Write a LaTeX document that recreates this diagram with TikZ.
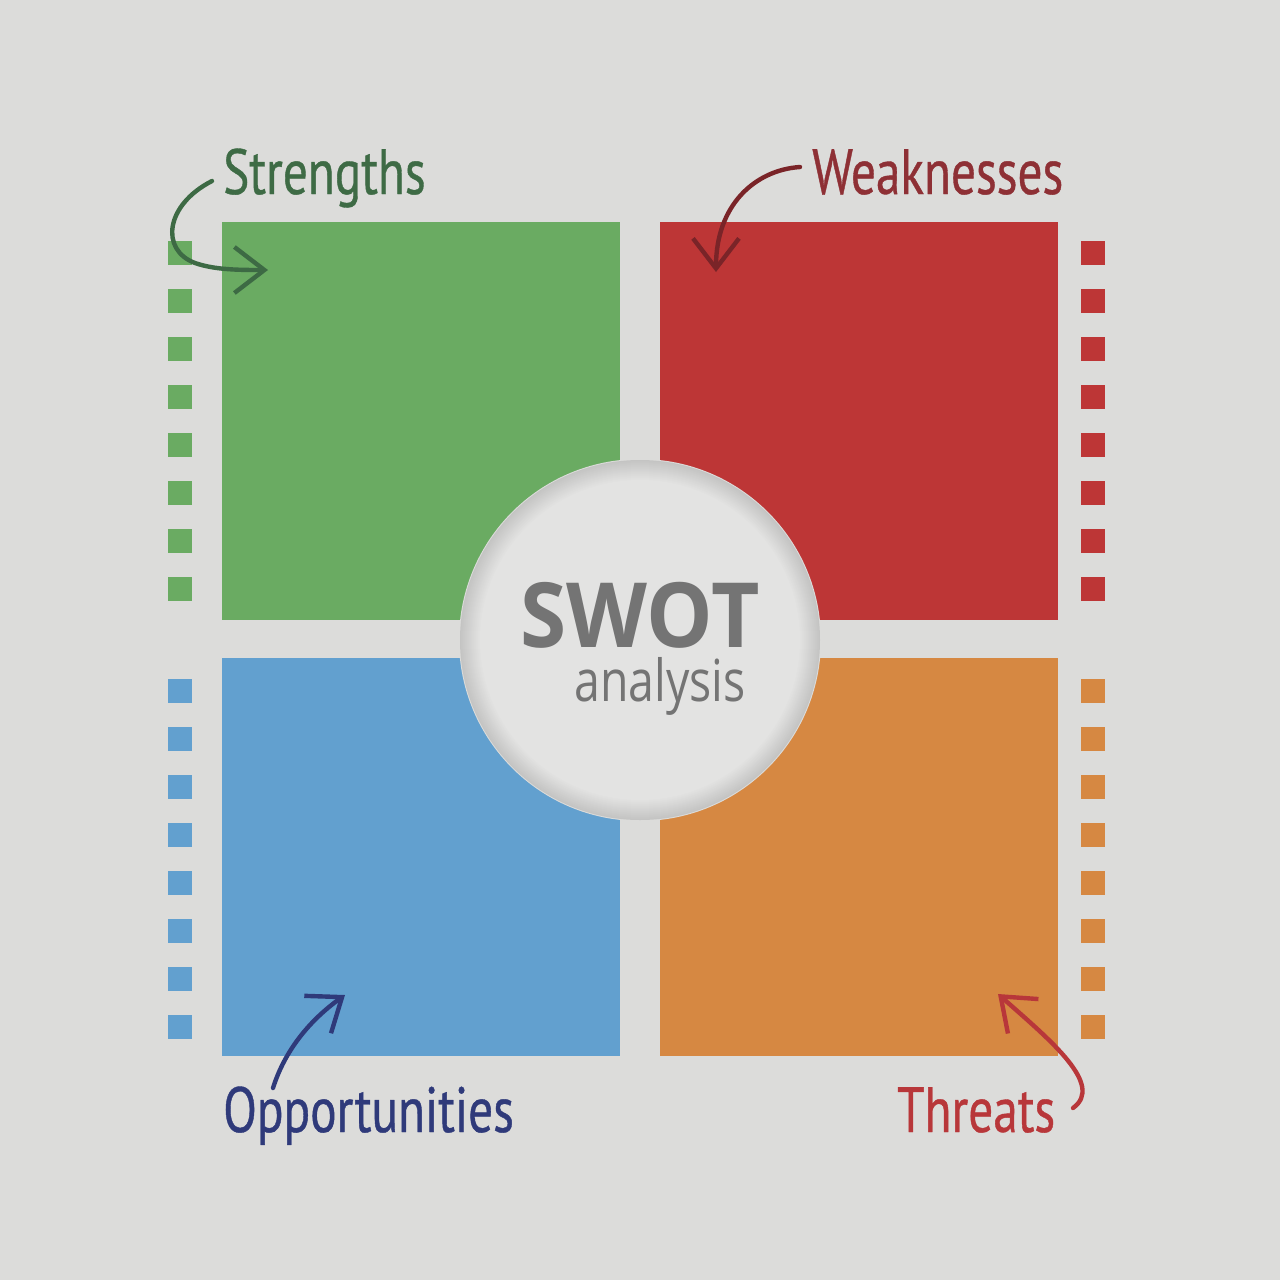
\documentclass[tikz,border=0pt]{standalone}
\usepackage{fontspec}
\usetikzlibrary{arrows.meta}
\newfontfamily\labelfont[FakeStretch=0.77,FakeBold=0.6]{PT Sans}
\newfontfamily\swotfont[FakeStretch=0.93]{Open Sans}
\newfontfamily\anafont[FakeStretch=0.8]{Open Sans}
\definecolor{bgc}{HTML}{DCDCDA}
\definecolor{sgreen}{HTML}{6AAB62}
\definecolor{sred}{HTML}{BD3636}
\definecolor{sblue}{HTML}{62A0CF}
\definecolor{sorange}{HTML}{D68842}
\definecolor{tgreen}{HTML}{3E6B45}
\definecolor{tred}{HTML}{8E3035}
\definecolor{tnavy}{HTML}{2F3A7A}
\definecolor{tthreat}{HTML}{B8373A}
\definecolor{agreen}{HTML}{3D6A44}
\definecolor{ared}{HTML}{7A2428}
\definecolor{tgray}{HTML}{747474}
\definecolor{diskc}{HTML}{E3E3E2}
\definecolor{shadc}{HTML}{C4C4C3}
\tikzset{
  quad/.style={minimum width=398pt, minimum height=398pt, inner sep=0pt, outer sep=0pt, anchor=north west},
  tick/.style={minimum size=24pt, inner sep=0pt, anchor=north west},
  lbl/.style={anchor=base west, inner sep=0pt, font=\labelfont\fontsize{64}{64}\selectfont},
  hand/.style={line width=4.4pt, line cap=round, -{Straight Barb[length=30pt,width=46pt,line width=4.4pt]}},
}
\begin{document}
\begin{tikzpicture}[x=1pt,y=-1pt]
\fill[bgc] (0,0) rectangle (1280,1280);
\useasboundingbox (0,0) rectangle (1280,1280);
% quadrants
\node[quad, fill=sgreen] (S) at (222,222) {};
\node[quad, fill=sred] (W) at (660,222) {};
\node[quad, fill=sblue] (O) at (222,658) {};
\node[quad, fill=sorange] (T) at (660,658) {};
% tick squares
\foreach \i in {0,...,7} {
  \node[tick, fill=sgreen] (sg\i) at (168,241+48*\i) {};
  \node[tick, fill=sred] (sr\i) at (1081,241+48*\i) {};
  \node[tick, fill=sblue] (sb\i) at (168,679+48*\i) {};
  \node[tick, fill=sorange] (so\i) at (1081,679+48*\i) {};
}
% centre disk with soft inner shadow
\fill[bgc] (640,640) circle (181);
\foreach \k in {0,...,20} {
  \pgfmathsetmacro{\rr}{180-\k}
  \pgfmathsetmacro{\mm}{min(100,\k*5)}
  \fill[diskc!\mm!shadc] (640,640) circle (\rr);
}
\node[inner sep=0pt, anchor=base, text depth=0pt, text=tgray, font=\swotfont\bfseries\fontsize{90}{90}\selectfont] (swot) at (640,647) {SWOT};
\node[inner sep=0pt, anchor=base west, text=tgray, font=\anafont\fontsize{58}{58}\selectfont] (ana) at (574,701) {analysis};
% labels
\node[lbl, text=tgreen] (ls) at (223,194) {Strengths};
\node[lbl, text=tred] (lw) at (812,194) {Weaknesses};
\node[lbl, text=tnavy] (lo) at (223,1132) {Opportunities};
\node[lbl, text=tthreat] (lt) at (897,1132) {Threats};
% arrows
\coordinate (s0) at (212,181); \coordinate (s1) at (268,270);
\coordinate (w0) at (800,167); \coordinate (w1) at (716,272);
\coordinate (o0) at (273,1088); \coordinate (o1) at (345,995);
\coordinate (t0) at (1073,1108); \coordinate (t1) at (998,994);
\draw[hand, agreen] (s0) .. controls (165,205) and (160,250) .. (195,263) .. controls (215,270) and (240,270) .. (s1);
\draw[hand, ared] (w0) .. controls (755,170) and (716,205) .. (w1);
\draw[hand, tnavy] (o0) .. controls (285,1050) and (310,1020) .. (o1);
\draw[hand, tthreat] (t0) .. controls (1105,1085) and (1050,1040) .. (t1);
\end{tikzpicture}
\end{document}
